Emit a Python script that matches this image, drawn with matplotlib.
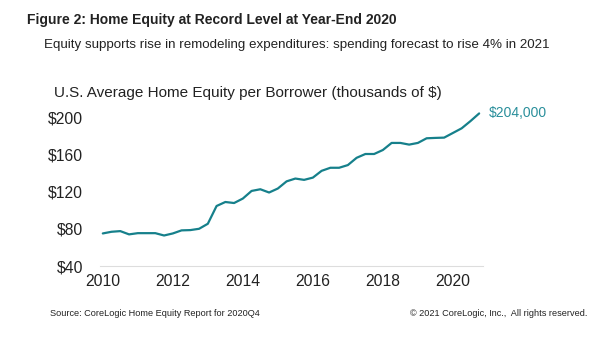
import matplotlib.pyplot as plt

# quarterly average home equity per borrower, 2010Q1 - 2020Q4 (thousands of $)
quarters = [2010 + i / 4 for i in range(44)]
equity = [
    75.0, 76.8, 77.5, 74.0,
    75.3, 75.3, 75.3, 72.8,
    75.0, 78.3, 78.6, 80.0,
    85.4, 104.5, 108.8, 107.7,
    112.5, 120.7, 122.5, 119.0,
    123.3, 131.0, 134.0, 132.6,
    135.0, 142.3, 145.6, 145.6,
    148.5, 156.3, 160.4, 160.4,
    164.7, 172.3, 172.3, 170.5,
    172.3, 177.3, 177.7, 178.0,
    183.0, 188.0, 195.7, 204.0,
]
year_ticks = [2010, 2012, 2014, 2016, 2018, 2020]
value_ticks = [40, 80, 120, 160, 200]

teal = "#16808b"
plt.rcParams['font.family'] = ['Liberation Sans', 'DejaVu Sans']

W, H = 600, 343
fig = plt.figure(figsize=(6, 3.43), dpi=100)


def px(x, y):
    return x / W, 1 - y / H


ax = fig.add_axes([100 / W, 1 - 266 / H, 383 / W, 160 / H])
ax.plot(quarters, equity, color=teal, lw=1.6, solid_capstyle='round')
ax.set_xlim(2009.92, 2020.86)
ax.set_ylim(40, 212)

ax.set_xticks(year_ticks)
ax.set_xticklabels([str(y) for y in year_ticks])
ax.set_yticks(value_ticks)
ax.set_yticklabels([f"${v}" for v in value_ticks])
ax.tick_params(length=0, labelsize=11.3, colors="#222222")
ax.tick_params(axis='y', pad=12)
ax.tick_params(axis='x', pad=6)

for s in ['top', 'right', 'left']:
    ax.spines[s].set_visible(False)
ax.spines['bottom'].set_color("#dddddd")
ax.spines['bottom'].set_linewidth(0.8)

ax.annotate(f"${equity[-1] * 1000:,.0f}", xy=(quarters[-1], equity[-1]),
            xytext=(7, 0), textcoords='offset points', va='center',
            fontsize=10, color="#2a8f9b")

fig.text(*px(27, 20), "Figure 2: Home Equity at Record Level at Year-End 2020",
         fontsize=10, fontweight='bold', color="#222222", va='center')
fig.text(*px(44, 45), "Equity supports rise in remodeling expenditures: "
         "spending forecast to rise 4% in 2021",
         fontsize=9.6, color="#222222", va='center')
fig.text(*px(54, 93), "U.S. Average Home Equity per Borrower (thousands of $)",
         fontsize=11, color="#222222", va='center')
fig.text(*px(50, 314), "Source: CoreLogic Home Equity Report for 2020Q4",
         fontsize=6.6, color="#222222", va='center')
fig.text(*px(587, 314), "\u00a9 2021 CoreLogic, Inc.,  All rights reserved.",
         fontsize=6.6, color="#222222", va='center', ha='right')

fig.savefig("out.png", dpi=100)
